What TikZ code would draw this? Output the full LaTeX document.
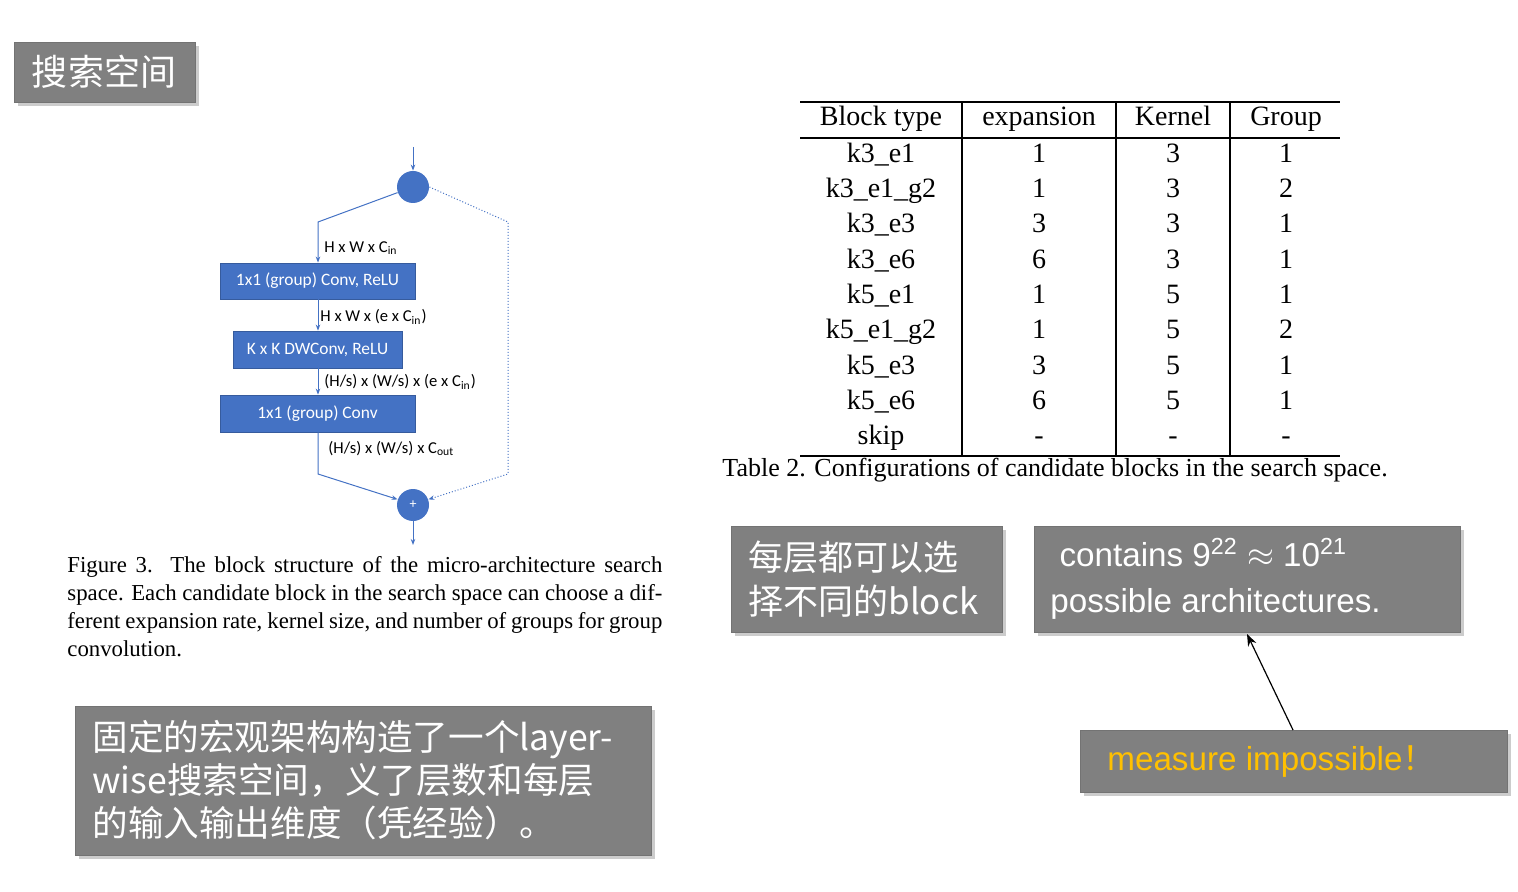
\documentclass[tikz,border=0pt]{standalone}
\usepackage{fontspec}
\setmainfont{Liberation Serif}
\newfontfamily\cjk{Noto Sans CJK SC}
\newfontfamily\carl{Carlito}
\newfontfamily\lsans{Liberation Sans}
\usetikzlibrary{arrows.meta,shadows}
\definecolor{blk}{RGB}{68,114,196}
\definecolor{gbox}{RGB}{128,128,128}
\definecolor{ylw}{RGB}{255,192,0}
\tikzset{
 gb/.style={fill=gbox,draw=gbox!90!black,drop shadow={shadow xshift=2pt,shadow yshift=-2pt,opacity=0.4}},
 bb/.style={fill=blk,draw=blk!80!black,text=white,font=\carl\fontsize{8.7}{9}\selectfont,inner sep=0},
 bl/.style={blk,line width=0.5pt},
 lab/.style={font=\carl\fontsize{8.3}{9}\selectfont,anchor=west,inner sep=0},
 tt/.style={font=\fontsize{14}{16}\selectfont,inner sep=0,text height=10pt,text depth=3pt},
}
\begin{document}
\begin{tikzpicture}[x=0.5pt,y=-0.5pt]
\useasboundingbox (0,0) rectangle (1518,892);
% title box
\draw[gb] (14,42) rectangle (195,102);
\node[text=white,font=\cjk\fontsize{18}{20}\selectfont] (t) at (104,72) {搜索空间};
% block diagram
\node[circle,fill=blk,minimum size=16pt,inner sep=0] (c1) at (413,187) {};
\node[circle,fill=blk,minimum size=16pt,inner sep=0,text=white,font=\carl\fontsize{7}{8}\selectfont] (c2) at (413,505) {+};
\coordinate (in) at (413,147);
\coordinate (out) at (413,545);
\node[bb,minimum width=97.5pt,minimum height=18pt] (A) at (317.5,281) {1x1 (group) Conv, ReLU};
\node[bb,minimum width=84.5pt,minimum height=18.5pt] (B) at (317.5,349.5) {K x K DWConv, ReLU};
\node[bb,minimum width=97.5pt,minimum height=18.5pt] (C) at (317.5,413.5) {1x1 (group) Conv};
\draw[bl,-{Stealth[length=3pt]}] (in) -- (c1);
\draw[bl,-{Stealth[length=3pt]}] (c2) -- (out);
\draw[bl,-{Stealth[length=3pt]}] (c1.200) -- (318,222) -- (A.north-|318,0);
\draw[bl,-{Stealth[length=3pt]}] (A.south-|318,0) -- (B.north-|318,0);
\draw[bl,-{Stealth[length=3pt]}] (B.south-|318,0) -- (C.north-|318,0);
\draw[bl,-{Stealth[length=3pt]}] (C.south-|318,0) -- (318,474) -- (c2.160);
\draw[bl,densely dotted,-{Stealth[length=3pt]}] (c1.east) -- (508,222) -- (508,474) -- (c2.20);
\node[lab] (l1) at (324,248) {H x W x C\textsubscript{in}};
\node[lab] (l2) at (320,317) {H x W x (e x C\textsubscript{in})};
\node[lab] (l3) at (324,382) {(H/s) x (W/s) x (e x C\textsubscript{in})};
\node[lab] (l4) at (328,449) {(H/s) x (W/s) x C\textsubscript{out}};
% figure caption
\node[anchor=north west,text width=297.5pt,align=justify,inner sep=0,font=\fontsize{11.4}{14}\selectfont] (fc) at (67,556) {Figure 3.\ \ The block structure of the micro-architecture search space. Each candidate block in the search space can choose a different expansion rate, kernel size, and number of groups for group convolution.};
% table
\draw[line width=0.8pt] (800,102) -- (1340,102);
\draw[line width=0.6pt] (800,138) -- (1340,138);
\draw[line width=0.6pt] (800,456) -- (1340,456);
\foreach \x in {962,1116,1230} \draw[line width=0.6pt] (\x,102) -- (\x,456);
\node[tt] (h1) at (881,119) {Block type};
\node[tt] (h2) at (1039,119) {expansion};
\node[tt] (h3) at (1173,119) {Kernel};
\node[tt] (h4) at (1286,119) {Group};
\foreach \n/\e/\k/\g [count=\i] in {k3\_e1/1/3/1,k3\_e1\_g2/1/3/2,k3\_e3/3/3/1,k3\_e6/6/3/1,k5\_e1/1/5/1,k5\_e1\_g2/1/5/2,k5\_e3/3/5/1,k5\_e6/6/5/1,skip/-/-/-}{
 \pgfmathsetmacro\yy{120+35.3*\i}
 \node[tt] at (881,\yy) {\n};
 \node[tt] at (1039,\yy) {\e};
 \node[tt] at (1173,\yy) {\k};
 \node[tt] at (1286,\yy) {\g};
}
\node[anchor=west,inner sep=0,font=\fontsize{13}{14}\selectfont] (tc) at (722,470) {Table 2. Configurations of candidate blocks in the search space.};
% gray boxes
\draw[gb] (731,526) rectangle (1002,632);
\node[anchor=west,align=left,text=white,font=\cjk\fontsize{17.5}{22}\selectfont,inner sep=0] (b2) at (748,579) {每层都可以选\\择不同的block};
\draw[gb] (1034,526) rectangle (1460,632);
\node[anchor=west,align=left,text=white,font=\lsans\fontsize{16.6}{23}\selectfont,inner sep=0] (b3) at (1050,579) {\ contains 9\textsuperscript{22} $\approx$ 10\textsuperscript{21}\\possible architectures.};
\draw[gb] (1080,730) rectangle (1507,792);
\node[anchor=west,text=ylw,font=\lsans\fontsize{16.6}{20}\selectfont,inner sep=0] (b4) at (1107,762) {measure impossible{\cjk ！}};
\draw[-{Stealth[length=6pt]},line width=0.6pt] (1293,730) -- (1247,634);
\draw[gb] (75,706) rectangle (651,855);
\node[anchor=west,align=left,text=white,font=\cjk\fontsize{17.8}{21.5}\selectfont,inner sep=0] (b5) at (92,780) {固定的宏观架构构造了一个layer-\\wise搜索空间，义了层数和每层\\的输入输出维度（凭经验）。};
\end{tikzpicture}
\end{document}
